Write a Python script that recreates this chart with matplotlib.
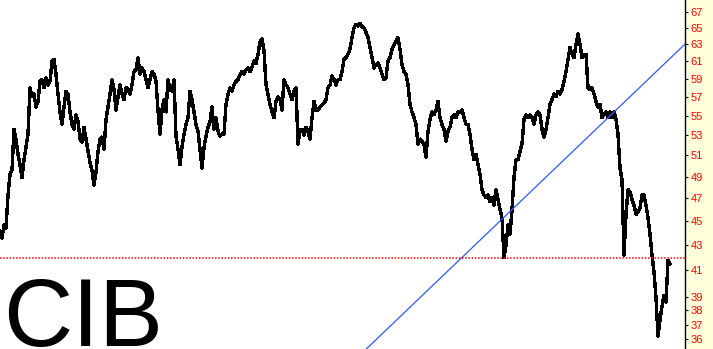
import matplotlib
matplotlib.use("Agg")
import matplotlib.pyplot as plt
import numpy as np

# CIB daily price (roughly one value every two bars)
prices_a = [44.2, 43.6, 44.7, 44.4, 47.3, 49.2, 49.6, 53.6, 52.6, 51.1,
            50.1, 48.9, 50.6, 51.8, 53.1, 58.0, 57.0, 57.3, 55.9, 56.5,
            58.7, 58.9, 58.0, 59.1, 58.3, 58.7, 61.0, 61.2, 59.5, 57.3,
            55.4, 54.1, 55.9, 57.6, 57.3, 55.4, 54.1, 53.6, 55.1, 54.4,
            52.6, 52.3, 53.8, 52.6, 51.4, 50.3, 49.6, 48.2, 49.4, 51.4]
prices_b = [52.6, 52.8, 51.6, 54.6, 55.9, 57.3, 58.9, 57.8, 55.6, 57.0,
            58.3, 57.3, 56.7, 58.0, 57.8, 57.3, 58.3, 59.8, 60.0, 61.4,
            59.5, 60.2, 59.8, 58.9, 58.0, 58.9, 59.8, 59.5, 58.7, 55.6,
            53.1, 55.6, 56.7, 55.4, 58.9, 57.8, 57.6, 58.9, 52.9, 51.6,
            50.1, 51.8, 53.1, 54.1, 54.8, 57.6, 56.7, 55.4, 54.1, 53.4]
prices_c = [51.6, 49.8, 51.8, 52.9, 53.8, 54.4, 55.9, 53.6, 54.8, 53.4,
            52.9, 53.1, 53.1, 56.2, 57.3, 58.0, 57.6, 58.3, 58.7, 58.9,
            59.4, 59.8, 59.5, 60.0, 60.2, 59.8, 60.3, 61.0, 60.7, 61.8,
            63.3, 63.6, 62.2, 58.3, 57.2, 56.2, 55.4, 54.8, 56.5, 57.0,
            56.7, 55.6, 58.9, 58.3, 58.0, 57.3, 56.7, 57.6, 58.0, 52.1]
prices_d = [53.6, 53.6, 53.0, 53.8, 53.4, 52.6, 54.8, 56.5, 55.6, 55.6,
            55.9, 56.1, 56.3, 56.7, 58.0, 58.3, 59.3, 58.9, 58.3, 58.9,
            58.9, 59.8, 61.2, 61.4, 61.8, 62.4, 63.8, 65.0, 65.4, 65.2,
            65.5, 65.1, 65.0, 64.4, 63.8, 62.6, 61.4, 60.2, 60.6, 60.8,
            60.2, 59.5, 58.9, 59.1, 61.0, 61.4, 62.4, 62.9, 63.4, 63.8]
prices_e = [62.4, 60.6, 59.8, 59.5, 58.3, 56.2, 55.4, 54.8, 54.1, 52.1,
            52.6, 52.4, 52.1, 50.8, 53.4, 54.6, 55.4, 55.1, 55.6, 56.5,
            54.8, 54.1, 53.6, 52.4, 53.4, 53.8, 54.8, 55.1, 54.8, 55.4,
            55.4, 55.6, 54.8, 54.1, 54.1, 53.1, 51.6, 50.6, 51.1, 50.1,
            49.2, 47.8, 47.3, 47.1, 47.3, 46.7, 47.1, 46.4, 47.8, 46.9]
prices_f = [46.0, 45.3, 42.0, 43.0, 44.7, 43.9, 46.0, 48.9, 50.6, 50.6,
            51.4, 52.1, 54.6, 55.1, 54.8, 55.1, 54.8, 54.1, 55.1, 55.4,
            55.1, 53.6, 52.8, 53.6, 54.8, 56.2, 56.7, 57.3, 57.0, 57.6,
            57.3, 57.8, 58.7, 59.8, 61.2, 62.6, 61.8, 61.4, 63.0, 64.2,
            63.0, 61.4, 61.8, 61.8, 58.0, 57.8, 58.0, 57.3, 56.5, 55.9]
prices_g = [56.2, 54.8, 55.1, 55.4, 54.8, 55.4, 54.8, 55.4, 54.6, 53.1,
            49.8, 48.7, 42.2, 45.6, 47.8, 47.6, 46.9, 46.4, 45.6, 45.8,
            46.2, 47.3, 47.3, 46.4, 45.3, 43.9, 42.2, 40.9, 38.9, 36.2,
            37.3, 38.3, 39.1, 38.6, 41.8, 41.5]

prices = prices_a + prices_b + prices_c + prices_d + prices_e + prices_f + prices_g

support_level = 42.0
trend_x = [183, 342.5]
trend_y = [35.3, 63.0]
tick_values = [36, 37, 38, 39, 41, 43, 45, 47, 49, 51, 53, 55, 57, 59, 61, 63, 65, 67]

fig = plt.figure(figsize=(7.13, 3.49), dpi=100, facecolor="#FFFFDC")
ax = fig.add_axes([0, 0, 685 / 713, 1])
ax.set_facecolor("white")

x = np.arange(len(prices))
ax.plot(x, prices, color="black", lw=1.7, antialiased=False, zorder=2)
ax.plot(trend_x, trend_y, color="#2D5BFF", lw=0.9, zorder=3)
ax.axhline(support_level, color="#FF0000", lw=1.1, linestyle=(0, (1, 1.1)), zorder=4)

ax.set_yscale("log")
ax.set_ylim(35.32, 68.5)
ax.set_xlim(0, 342.5)

ax.yaxis.tick_right()
ax.set_yticks(tick_values)
ax.set_yticklabels([str(v) for v in tick_values])
ax.yaxis.set_minor_locator(matplotlib.ticker.NullLocator())
ax.tick_params(axis="y", which="major", direction="out", length=2.5, width=0.8,
               pad=1.5, colors="black", labelcolor="#FF0000", labelsize=8)
for lab in ax.get_yticklabels():
    lab.set_family("Liberation Sans")
ax.set_xticks([])
for side in ["left", "top", "bottom"]:
    ax.spines[side].set_visible(False)
ax.spines["right"].set_color("black")
ax.spines["right"].set_linewidth(1.0)

fig.text(3 / 713, 3 / 349, "CIB", fontsize=69, family="Liberation Sans",
         color="black", ha="left", va="baseline")

fig.savefig("out.png", dpi=100, facecolor=fig.get_facecolor())
